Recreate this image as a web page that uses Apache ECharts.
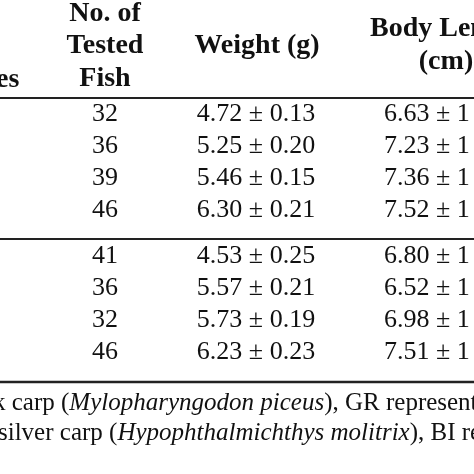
<!DOCTYPE html>
<html>
<head>
<meta charset="utf-8">
<script src="https://cdn.jsdelivr.net/npm/echarts@6/dist/echarts.min.js"></script>
<style>html,body{margin:0;padding:0;background:#fff}#main{width:474px;height:474px}</style>
</head>
<body>
<div id="main"></div>
<script>
// table values, one row per group of fish
var testedFish = ['32', '36', '39', '46', '41', '36', '32', '46'];
var weights = ['4.72 ± 0.13', '5.25 ± 0.20', '5.46 ± 0.15', '6.30 ± 0.21',
               '4.53 ± 0.25', '5.57 ± 0.21', '5.73 ± 0.19', '6.23 ± 0.23'];
var bodyLen = ['6.63 ± 1', '7.23 ± 1', '7.36 ± 1', '7.52 ± 1',
               '6.80 ± 1', '6.52 ± 1', '6.98 ± 1', '7.51 ± 1'];
var rowY = [114, 146, 178, 210, 256, 288, 320, 352];

var FONT = 'Liberation Serif';
var els = [];
function txt(x, y, s, opt) {
	opt = opt || {};
	els.push({
		type: 'text', x: x, y: y,
		style: {
			text: s, fill: '#111', font: (opt.bold ? 'bold ' : '') + (opt.size || 26) + 'px "' + FONT + '"',
			textAlign: opt.align || 'center', textVerticalAlign: 'middle'
		}
	});
}
function rule(y, w) {
	els.push({ type: 'line', shape: { x1: 0, y1: y, x2: 474, y2: y }, style: { stroke: '#222', lineWidth: w } });
}

// header
txt(-4, 80, 'es', { bold: true, align: 'left', size: 28 });
txt(105, 14, 'No. of', { bold: true, size: 28 });
txt(105, 46, 'Tested', { bold: true, size: 28 });
txt(105, 79, 'Fish', { bold: true, size: 28 });
txt(257, 46, 'Weight (g)', { bold: true, size: 28 });
txt(370, 29, 'Body Length', { bold: true, align: 'left', size: 28 });
txt(446, 62, '(cm)', { bold: true, size: 28 });

rule(98, 2);
rule(239, 2);
rule(382, 2.5);

for (var i = 0; i < rowY.length; i++) {
	txt(105, rowY[i], testedFish[i]);
	txt(256, rowY[i], weights[i]);
	txt(384, rowY[i], bodyLen[i], { align: 'left' });
}

// footnote
var rich = { i: { fontStyle: 'italic', fontSize: 25, fontFamily: FONT } };
els.push({ type: 'text', x: -7, y: 403, style: {
	text: 'k carp ({i|Mylopharyngodon piceus}), GR represents', font: '25px "' + FONT + '"', fill: '#111',
	textVerticalAlign: 'middle', rich: rich } });
els.push({ type: 'text', x: -2, y: 433, style: {
	text: 'silver carp ({i|Hypophthalmichthys molitrix}), BI rep', font: '25px "' + FONT + '"', fill: '#111',
	textVerticalAlign: 'middle', rich: rich } });

var myChart = echarts.init(document.getElementById('main'));
myChart.setOption({ backgroundColor: '#fff', graphic: { elements: els } });
</script>
</body>
</html>
